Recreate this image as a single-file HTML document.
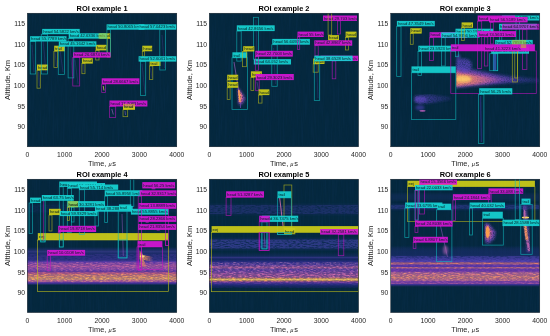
<!DOCTYPE html>
<html lang="en"><head><meta charset="utf-8"><title>ROI examples</title>
<style>
html,body{margin:0;padding:0;background:#fff;}
body{width:550px;height:336px;overflow:hidden;}
svg{display:block;font-family:"Liberation Sans",Arial,Helvetica,sans-serif;}
.tk{font-size:6.8px;fill:#262626;}
.lb{font-size:7.45px;fill:#262626;}
.tt{font-size:7.4px;font-weight:bold;fill:#000;}
.an{font-size:4.2px;fill:#062028;}
</style></head><body>
<svg width="550" height="336" viewBox="0 0 550 336">
<defs>
<filter id="streak" x="0" y="0" width="1" height="1" color-interpolation-filters="sRGB">
<feTurbulence type="fractalNoise" baseFrequency="0.55 0.035" numOctaves="2" seed="7" result="n"/>
<feColorMatrix in="n" type="matrix" values="0 0 0 0 0.06  0 0 0 0 0.21  0 0 0 0 0.36  1.8 0 0 0 -0.72"/>
</filter>
<filter id="speck" x="0" y="0" width="1" height="1" color-interpolation-filters="sRGB">
<feTurbulence type="fractalNoise" baseFrequency="0.3 1.0" numOctaves="2" seed="11" result="n"/>
<feColorMatrix in="n" type="matrix" values="0 0 0 0 0  0 0 0 0 0  0 0 0 0 0  3.2 0 0 0 -1.05" result="a"/>
<feComposite in="SourceGraphic" in2="a" operator="in"/>
</filter>
<filter id="speck2" x="0" y="0" width="1" height="1" color-interpolation-filters="sRGB">
<feTurbulence type="fractalNoise" baseFrequency="0.28 1.1" numOctaves="2" seed="23" result="n"/>
<feColorMatrix in="n" type="matrix" values="0 0 0 0 0  0 0 0 0 0  0 0 0 0 0  2.6 0 0 0 -0.55" result="a"/>
<feComposite in="SourceGraphic" in2="a" operator="in"/>
</filter>
<filter id="grain" x="-0.05" y="-0.05" width="1.1" height="1.1" color-interpolation-filters="sRGB">
<feTurbulence type="fractalNoise" baseFrequency="0.75 0.85" numOctaves="2" seed="5" result="n"/>
<feColorMatrix in="n" type="matrix" values="0 0 0 0 0  0 0 0 0 0  0 0 0 0 0  1.3 0 0 0 0.2" result="a"/>
<feComposite in="SourceGraphic" in2="a" operator="in"/>
</filter>
<filter id="b1" x="-0.5" y="-0.5" width="2" height="2"><feGaussianBlur stdDeviation="0.8"/></filter>
<filter id="b2" x="-0.5" y="-0.5" width="2" height="2"><feGaussianBlur stdDeviation="1.8"/></filter>
<filter id="b3" x="-0.5" y="-0.5" width="2" height="2"><feGaussianBlur stdDeviation="3.2"/></filter>
<filter id="b0" x="-0.5" y="-0.5" width="2" height="2"><feGaussianBlur stdDeviation="0.45"/></filter>
<clipPath id="cp0"><rect x="27.3" y="13.2" width="149.50" height="133.60"/></clipPath>
<clipPath id="cp1"><rect x="209.3" y="13.2" width="149.30" height="133.60"/></clipPath>
<radialGradient id="m2a" cx="0.25" cy="0.5" r="0.8"><stop offset="0" stop-color="#ffb060" stop-opacity="1"/><stop offset="0.5" stop-color="#e8689a" stop-opacity="0.85"/><stop offset="1" stop-color="#7040b0" stop-opacity="0"/></radialGradient>
<clipPath id="cp2"><rect x="390.7" y="13.2" width="149.10" height="133.60"/></clipPath>
<radialGradient id="m3a" cx="0.5" cy="0.5" r="0.5"><stop offset="0" stop-color="#ffdc68" stop-opacity="1"/><stop offset="0.5" stop-color="#ffae48" stop-opacity="0.9"/><stop offset="1" stop-color="#f08060" stop-opacity="0"/></radialGradient>
<linearGradient id="m3b" x1="0" y1="0" x2="1" y2="0"><stop offset="0" stop-color="#ffa848" stop-opacity="1"/><stop offset="0.45" stop-color="#f08a60" stop-opacity="0.9"/><stop offset="1" stop-color="#d0609a" stop-opacity="0"/></linearGradient>
<linearGradient id="m3c" x1="0" y1="0" x2="1" y2="0"><stop offset="0" stop-color="#5c44bc" stop-opacity="0.95"/><stop offset="0.5" stop-color="#4c3eb0" stop-opacity="0.8"/><stop offset="1" stop-color="#4038a4" stop-opacity="0.5"/></linearGradient>
<linearGradient id="m3d" x1="0" y1="0" x2="1" y2="0"><stop offset="0" stop-color="#d8609c" stop-opacity="0.95"/><stop offset="0.5" stop-color="#a452b8" stop-opacity="0.8"/><stop offset="1" stop-color="#6a48c0" stop-opacity="0.2"/></linearGradient>
<linearGradient id="m3e" x1="0" y1="0" x2="1" y2="0"><stop offset="0" stop-color="#6248c4" stop-opacity="0.8"/><stop offset="0.4" stop-color="#5040b4" stop-opacity="0.6"/><stop offset="1" stop-color="#4038a4" stop-opacity="0.25"/></linearGradient>
<clipPath id="m3clip"><rect x="456.4" y="40" width="90" height="70"/></clipPath>
<clipPath id="cp3"><rect x="27.3" y="179.2" width="149.50" height="133.40"/></clipPath>
<linearGradient id="g4" x1="0" y1="0" x2="0" y2="1"><stop offset="0" stop-color="#2a2f80" stop-opacity="0"/><stop offset="0.026" stop-color="#2a2f8c" stop-opacity="0.2"/><stop offset="0.117" stop-color="#4a40a8" stop-opacity="0.55"/><stop offset="0.18" stop-color="#302e90" stop-opacity="0.5"/><stop offset="0.338" stop-color="#36309a" stop-opacity="0.6"/><stop offset="0.40" stop-color="#6a40b0" stop-opacity="1"/><stop offset="0.49" stop-color="#b85aa0" stop-opacity="1"/><stop offset="0.584" stop-color="#8a48b0" stop-opacity="1"/><stop offset="0.623" stop-color="#5a38a8" stop-opacity="1"/><stop offset="0.675" stop-color="#d8687e" stop-opacity="1"/><stop offset="0.753" stop-color="#ec8862" stop-opacity="1"/><stop offset="0.82" stop-color="#f8a858" stop-opacity="1"/><stop offset="0.883" stop-color="#d8609a" stop-opacity="1"/><stop offset="0.935" stop-color="#5a3cb0" stop-opacity="0.9"/><stop offset="1" stop-color="#2a2f80" stop-opacity="0"/></linearGradient>
<radialGradient id="m4a" cx="0.5" cy="0.5" r="0.5"><stop offset="0" stop-color="#ffd468" stop-opacity="1"/><stop offset="0.5" stop-color="#f08a58" stop-opacity="0.8"/><stop offset="1" stop-color="#a050b0" stop-opacity="0"/></radialGradient>
<radialGradient id="m4b" cx="0.2" cy="0.45" r="0.8"><stop offset="0" stop-color="#ffa850" stop-opacity="0.9"/><stop offset="0.6" stop-color="#f08060" stop-opacity="0.5"/><stop offset="1" stop-color="#a050b0" stop-opacity="0"/></radialGradient>
<clipPath id="cp4"><rect x="209.3" y="179.2" width="149.30" height="133.40"/></clipPath>
<linearGradient id="g5" x1="0" y1="0" x2="0" y2="1"><stop offset="0" stop-color="#2a2f80" stop-opacity="0"/><stop offset="0.11" stop-color="#2c3090" stop-opacity="0.3"/><stop offset="0.153" stop-color="#4a3ca8" stop-opacity="0.6"/><stop offset="0.208" stop-color="#2c3090" stop-opacity="0.35"/><stop offset="0.278" stop-color="#3c34a0" stop-opacity="0.8"/><stop offset="0.361" stop-color="#5a3cac" stop-opacity="1"/><stop offset="0.43" stop-color="#d0689a" stop-opacity="1"/><stop offset="0.486" stop-color="#6a40b0" stop-opacity="1"/><stop offset="0.528" stop-color="#7a44b0" stop-opacity="1"/><stop offset="0.611" stop-color="#b85aa4" stop-opacity="1"/><stop offset="0.694" stop-color="#c8609c" stop-opacity="1"/><stop offset="0.73" stop-color="#f49a58" stop-opacity="1"/><stop offset="0.764" stop-color="#ffc858" stop-opacity="1"/><stop offset="0.797" stop-color="#f49a58" stop-opacity="1"/><stop offset="0.833" stop-color="#a04cb0" stop-opacity="1"/><stop offset="0.889" stop-color="#4a38a8" stop-opacity="0.8"/><stop offset="0.944" stop-color="#2c3090" stop-opacity="0.4"/><stop offset="1" stop-color="#2a2f80" stop-opacity="0"/></linearGradient>
<clipPath id="cp5"><rect x="390.7" y="179.2" width="149.10" height="133.40"/></clipPath>
<linearGradient id="g6" x1="0" y1="0" x2="0" y2="1"><stop offset="0" stop-color="#2a2f80" stop-opacity="0"/><stop offset="0.12" stop-color="#2c3090" stop-opacity="0.15"/><stop offset="0.262" stop-color="#34329c" stop-opacity="0.4"/><stop offset="0.33" stop-color="#3e36a2" stop-opacity="0.7"/><stop offset="0.393" stop-color="#4e3aa8" stop-opacity="0.9"/><stop offset="0.436" stop-color="#f08868" stop-opacity="1"/><stop offset="0.481" stop-color="#6a3cb0" stop-opacity="1"/><stop offset="0.519" stop-color="#6a3cb0" stop-opacity="1"/><stop offset="0.543" stop-color="#f08868" stop-opacity="1"/><stop offset="0.571" stop-color="#7a40b0" stop-opacity="1"/><stop offset="0.619" stop-color="#7a40b0" stop-opacity="1"/><stop offset="0.667" stop-color="#d06a9a" stop-opacity="1"/><stop offset="0.774" stop-color="#ec8870" stop-opacity="1"/><stop offset="0.845" stop-color="#d06a9a" stop-opacity="1"/><stop offset="0.881" stop-color="#7a40b0" stop-opacity="1"/><stop offset="0.91" stop-color="#c060a0" stop-opacity="1"/><stop offset="0.94" stop-color="#4a38a8" stop-opacity="0.8"/><stop offset="1" stop-color="#2a2f80" stop-opacity="0"/></linearGradient>
<radialGradient id="m6a" cx="0.25" cy="0.5" r="0.75"><stop offset="0" stop-color="#ffb058" stop-opacity="1"/><stop offset="0.45" stop-color="#e0689a" stop-opacity="0.8"/><stop offset="1" stop-color="#7040b0" stop-opacity="0"/></radialGradient>
</defs>
<rect width="550" height="336" fill="#fff"/>
<g id="panel1">
<rect x="27.3" y="13.2" width="149.5" height="133.6" fill="#05283e"/>
<g clip-path="url(#cp0)">
<rect x="27.3" y="13.2" width="149.5" height="133.6" filter="url(#streak)" opacity="0.32"/>
<line x1="32" y1="45" x2="34" y2="72" stroke="#4a3a9a" stroke-width="0.9" stroke-opacity="0.4" filter="url(#b0)"/>
<line x1="43" y1="40" x2="46" y2="72" stroke="#4a3a9a" stroke-width="0.9" stroke-opacity="0.4" filter="url(#b0)"/>
<line x1="60" y1="50" x2="63" y2="72" stroke="#4a3a9a" stroke-width="0.9" stroke-opacity="0.4" filter="url(#b0)"/>
<line x1="70" y1="45" x2="72.5" y2="76" stroke="#4a3a9a" stroke-width="0.9" stroke-opacity="0.4" filter="url(#b0)"/>
<line x1="75" y1="60" x2="78" y2="84" stroke="#4a3a9a" stroke-width="0.9" stroke-opacity="0.4" filter="url(#b0)"/>
<line x1="142" y1="64" x2="145" y2="93" stroke="#4a3a9a" stroke-width="0.9" stroke-opacity="0.4" filter="url(#b0)"/>
<line x1="162" y1="35" x2="164.5" y2="68" stroke="#4a3a9a" stroke-width="0.9" stroke-opacity="0.4" filter="url(#b0)"/>
<line x1="150.5" y1="68" x2="152" y2="78" stroke="#4a3a9a" stroke-width="0.9" stroke-opacity="0.4" filter="url(#b0)"/>
<line x1="55" y1="52" x2="56.5" y2="66" stroke="#4a3a9a" stroke-width="0.9" stroke-opacity="0.4" filter="url(#b0)"/>
<line x1="38.5" y1="72" x2="39.5" y2="86" stroke="#4a3a9a" stroke-width="0.9" stroke-opacity="0.4" filter="url(#b0)"/>
<line x1="83" y1="64" x2="84" y2="72" stroke="#4a3a9a" stroke-width="0.9" stroke-opacity="0.4" filter="url(#b0)"/>
<line x1="103.2" y1="86" x2="104" y2="90.5" stroke="#f0c060" stroke-width="0.8" stroke-opacity="0.9"/>
<line x1="111.8" y1="109" x2="113.3" y2="114.5" stroke="#b070d0" stroke-width="0.7" stroke-opacity="0.8"/>
<line x1="125" y1="111" x2="125.6" y2="115" stroke="#8060c0" stroke-width="0.7" stroke-opacity="0.8"/>
<rect x="53.9" y="51.3" width="3.5" height="16.1" fill="none" stroke="#b9b91c" stroke-width="0.75" stroke-opacity="0.75"/>
<rect x="54.2" y="45.7" width="10.8" height="5.6" fill="#cccc18" fill-opacity="0.93"/>
<text class="an" x="55.2" y="49.95">trail</text>
<rect x="37" y="70.3" width="3.3" height="17.9" fill="none" stroke="#b9b91c" stroke-width="0.75" stroke-opacity="0.75"/>
<rect x="37" y="64.5" width="11" height="5.8" fill="#cccc18" fill-opacity="0.93"/>
<text class="an" x="38" y="68.85">head</text>
<rect x="95.7" y="50.4" width="3.3" height="9.6" fill="none" stroke="#b9b91c" stroke-width="0.75" stroke-opacity="0.75"/>
<rect x="95.7" y="44.8" width="10.9" height="5.6" fill="#cccc18" fill-opacity="0.93"/>
<text class="an" x="96.7" y="49.05">head</text>
<rect x="107.3" y="38.6" width="3.2" height="18.4" fill="none" stroke="#b9b91c" stroke-width="0.75" stroke-opacity="0.75"/>
<rect x="99.5" y="33.3" width="11" height="5.3" fill="#cccc18" fill-opacity="0.93"/>
<text class="an" x="100.5" y="37.4">head</text>
<rect x="81.9" y="63.6" width="3.1" height="10.1" fill="none" stroke="#b9b91c" stroke-width="0.75" stroke-opacity="0.75"/>
<rect x="81.9" y="58.2" width="10.9" height="5.4" fill="#cccc18" fill-opacity="0.93"/>
<text class="an" x="82.9" y="62.35">head</text>
<rect x="142.3" y="51.3" width="2.2" height="4.9" fill="none" stroke="#b9b91c" stroke-width="0.75" stroke-opacity="0.75"/>
<rect x="142.3" y="45.7" width="9.9" height="5.6" fill="#cccc18" fill-opacity="0.93"/>
<text class="an" x="143.3" y="49.95">head</text>
<rect x="149.6" y="66" width="3.2" height="13.5" fill="none" stroke="#b9b91c" stroke-width="0.75" stroke-opacity="0.75"/>
<rect x="149.6" y="60.5" width="10.9" height="5.5" fill="#cccc18" fill-opacity="0.93"/>
<text class="an" x="150.6" y="64.7">trail</text>
<rect x="123" y="109.7" width="4.7" height="7" fill="none" stroke="#b9b91c" stroke-width="0.75" stroke-opacity="0.75"/>
<rect x="123" y="103.8" width="12" height="5.9" fill="#cccc18" fill-opacity="0.93"/>
<text class="an" x="124" y="108.2">head</text>
<rect x="30.2" y="41.5" width="5.5" height="32.5" fill="none" stroke="#12b9bd" stroke-width="0.75" stroke-opacity="0.75"/>
<rect x="30.1" y="36.2" width="36.4" height="5.3" fill="#16d2d2" fill-opacity="0.93"/>
<text class="an" x="31.1" y="40.3">head 55.7789 km/s</text>
<rect x="41.3" y="34.2" width="6.2" height="39.8" fill="none" stroke="#12b9bd" stroke-width="0.75" stroke-opacity="0.75"/>
<rect x="42.2" y="28.9" width="37.5" height="5.3" fill="#16d2d2" fill-opacity="0.93"/>
<text class="an" x="43.2" y="33">head 54.5822 km/s</text>
<rect x="68.1" y="38.6" width="5.7" height="39.3" fill="none" stroke="#12b9bd" stroke-width="0.75" stroke-opacity="0.75"/>
<rect x="68.7" y="33.3" width="37.8" height="5.3" fill="#16d2d2" fill-opacity="0.93"/>
<text class="an" x="69.7" y="37.4">head 42.6336 km/s</text>
<rect x="58.3" y="46.6" width="6.1" height="27.8" fill="none" stroke="#12b9bd" stroke-width="0.75" stroke-opacity="0.75"/>
<rect x="58.8" y="41.3" width="37.6" height="5.3" fill="#16d2d2" fill-opacity="0.93"/>
<text class="an" x="59.8" y="45.4">head 45.1642 km/s</text>
<rect x="106.9" y="29.7" width="3.6" height="26.3" fill="none" stroke="#12b9bd" stroke-width="0.75" stroke-opacity="0.75"/>
<rect x="106.6" y="24.3" width="37.8" height="5.4" fill="#16d2d2" fill-opacity="0.93"/>
<text class="an" x="107.6" y="28.45">head 50.8065 km/s</text>
<rect x="159.8" y="29.7" width="5.8" height="40.3" fill="none" stroke="#12b9bd" stroke-width="0.75" stroke-opacity="0.75"/>
<rect x="138.6" y="24.3" width="38.1" height="5.4" fill="#16d2d2" fill-opacity="0.93"/>
<text class="an" x="139.6" y="28.45">head 57.0423 km/s</text>
<rect x="140.4" y="61.6" width="5.3" height="33.9" fill="none" stroke="#12b9bd" stroke-width="0.75" stroke-opacity="0.75"/>
<rect x="138.6" y="56.2" width="38.1" height="5.4" fill="#16d2d2" fill-opacity="0.93"/>
<text class="an" x="139.6" y="60.35">head 52.6041 km/s</text>
<rect x="98.5" y="33.3" width="8" height="5.3" fill="#cccc18" fill-opacity="0.5"/>
<rect x="72.8" y="57.6" width="6.9" height="28.4" fill="none" stroke="#c214c2" stroke-width="0.75" stroke-opacity="0.75"/>
<rect x="73.1" y="52.3" width="37.4" height="5.3" fill="#d416d4" fill-opacity="0.93"/>
<text class="an" x="74.1" y="56.4">head 26.6874 km/s</text>
<rect x="101.7" y="84.2" width="3.8" height="8.4" fill="none" stroke="#c214c2" stroke-width="0.75" stroke-opacity="0.75"/>
<rect x="101.7" y="78.3" width="37.7" height="5.9" fill="#d416d4" fill-opacity="0.93"/>
<text class="an" x="102.7" y="82.7">head 28.6667 km/s</text>
<rect x="109.5" y="106.5" width="6.2" height="10.9" fill="none" stroke="#c214c2" stroke-width="0.75" stroke-opacity="0.75"/>
<rect x="109.5" y="100.5" width="37.9" height="6" fill="#d416d4" fill-opacity="0.93"/>
<text class="an" x="110.5" y="104.95">head 17.7083 km/s</text>
<rect x="123" y="103.8" width="12" height="5.9" fill="#cccc18" fill-opacity="0.55"/>
<text class="an" x="124" y="108.2">head</text>
</g>
<rect x="27.3" y="13.2" width="149.5" height="133.6" fill="none" stroke="#0a1018" stroke-width="0.45" stroke-opacity="0.85"/>
<text class="tt" text-anchor="middle" x="102.05" y="11.3">ROI example 1</text>
<text class="tk" text-anchor="middle" x="27.3" y="156.9">0</text>
<text class="tk" text-anchor="middle" x="64.67" y="156.9">1000</text>
<text class="tk" text-anchor="middle" x="102.05" y="156.9">2000</text>
<text class="tk" text-anchor="middle" x="139.43" y="156.9">3000</text>
<text class="tk" text-anchor="middle" x="176.8" y="156.9">4000</text>
<text class="tk" text-anchor="end" x="25" y="26.15">115</text>
<text class="tk" text-anchor="end" x="25" y="46.75">110</text>
<text class="tk" text-anchor="end" x="25" y="67.35">105</text>
<text class="tk" text-anchor="end" x="25" y="87.95">100</text>
<text class="tk" text-anchor="end" x="25" y="108.55">95</text>
<text class="tk" text-anchor="end" x="25" y="129.15">90</text>
<text class="lb" text-anchor="middle" x="102.05" y="166.4">Time, <tspan font-family="'Liberation Serif','DejaVu Serif',serif" font-style="italic" font-size="6.4px">μ</tspan><tspan dx="0.7">s</tspan></text>
<text class="lb" text-anchor="middle" transform="translate(10,80) rotate(-90)">Altitude, Km</text>
</g>
<g id="panel2">
<rect x="209.3" y="13.2" width="149.3" height="133.6" fill="#05283e"/>
<g clip-path="url(#cp1)">
<rect x="209.3" y="13.2" width="149.3" height="133.6" filter="url(#streak)" opacity="0.32"/>
<line x1="234" y1="62" x2="238.6" y2="90" stroke="#a060c0" stroke-width="0.9" stroke-opacity="0.75" filter="url(#b0)"/>
<g filter="url(#grain)"><polygon points="237.3,88 239.5,88.5 245.5,98 244,102 240.5,105.5 238.2,104" fill="#8a50c0" opacity="0.8" filter="url(#b1)"/><polygon points="238,89.5 239.6,90 244.3,98 243,101 240.4,103.5 238.6,102.5" fill="url(#m2a)" filter="url(#b0)"/></g>
<line x1="238.7" y1="90" x2="240" y2="102" stroke="#ffa850" stroke-width="1.3" stroke-opacity="0.95" filter="url(#b0)"/>
<line x1="240.2" y1="103" x2="240.6" y2="108" stroke="#7a4cc0" stroke-width="1" stroke-opacity="0.7" filter="url(#b0)"/>
<line x1="255.9" y1="20" x2="257" y2="58" stroke="#4a3a9a" stroke-width="0.8" stroke-opacity="0.4" filter="url(#b0)"/>
<line x1="316.5" y1="64" x2="318" y2="98" stroke="#4a3a9a" stroke-width="0.8" stroke-opacity="0.4" filter="url(#b0)"/>
<line x1="273.5" y1="48" x2="275.5" y2="84" stroke="#4a3a9a" stroke-width="0.8" stroke-opacity="0.4" filter="url(#b0)"/>
<line x1="257" y1="82" x2="258.5" y2="90" stroke="#7a4cc0" stroke-width="0.7" stroke-opacity="0.6"/>
<rect x="253.5" y="17.3" width="5.1" height="41.8" fill="none" stroke="#12b9bd" stroke-width="0.75" stroke-opacity="0.75"/>
<rect x="253.8" y="59.1" width="37.2" height="5.4" fill="#16d2d2" fill-opacity="0.93"/>
<text class="an" x="254.8" y="63.25">head 64.052 km/s</text>
<rect x="236.8" y="31.1" width="4.4" height="30" fill="none" stroke="#12b9bd" stroke-width="0.75" stroke-opacity="0.75"/>
<rect x="236.8" y="25.3" width="37.9" height="5.8" fill="#16d2d2" fill-opacity="0.93"/>
<text class="an" x="237.8" y="29.65">head 42.8656 km/s</text>
<rect x="271.8" y="44.7" width="5.4" height="41.6" fill="none" stroke="#12b9bd" stroke-width="0.75" stroke-opacity="0.75"/>
<rect x="272.3" y="38.9" width="37.6" height="5.8" fill="#16d2d2" fill-opacity="0.93"/>
<text class="an" x="273.3" y="43.25">head 56.6092 km/s</text>
<rect x="232" y="57.8" width="15.5" height="51.6" fill="none" stroke="#12b9bd" stroke-width="0.75" stroke-opacity="0.75"/>
<rect x="232.4" y="52.3" width="14.9" height="5.5" fill="#16d2d2" fill-opacity="0.93"/>
<text class="an" x="233.4" y="56.5">trail</text>
<rect x="242.6" y="51.5" width="3.9" height="15.2" fill="none" stroke="#b9b91c" stroke-width="0.75" stroke-opacity="0.75"/>
<rect x="243.2" y="46.2" width="11.1" height="5.3" fill="#cccc18" fill-opacity="0.93"/>
<text class="an" x="244.2" y="50.3">head</text>
<rect x="255.3" y="56.6" width="3.3" height="13.7" fill="none" stroke="#c214c2" stroke-width="0.75" stroke-opacity="0.75"/>
<rect x="255.3" y="50.8" width="37.5" height="5.8" fill="#d416d4" fill-opacity="0.93"/>
<text class="an" x="256.3" y="55.15">head 22.7003 km/s</text>
<rect x="337.6" y="20.9" width="2.9" height="13.1" fill="none" stroke="#c214c2" stroke-width="0.75" stroke-opacity="0.75"/>
<rect x="323" y="15.5" width="34" height="5.4" fill="#d416d4" fill-opacity="0.93"/>
<text class="an" x="324" y="19.65">head 29.703 km/s</text>
<rect x="328.1" y="12" width="3.6" height="23" fill="none" stroke="#b9b91c" stroke-width="0.75" stroke-opacity="0.75"/>
<rect x="328.1" y="35.1" width="10.9" height="5.2" fill="#cccc18" fill-opacity="0.93"/>
<text class="an" x="329.1" y="39.15">head</text>
<rect x="297.5" y="37" width="2.2" height="12.4" fill="none" stroke="#c214c2" stroke-width="0.75" stroke-opacity="0.75"/>
<rect x="297.5" y="31.6" width="26.2" height="5.4" fill="#d416d4" fill-opacity="0.93"/>
<text class="an" x="298.5" y="35.75">head 55 km/s</text>
<rect x="345.6" y="37.4" width="2.9" height="12.6" fill="none" stroke="#b9b91c" stroke-width="0.75" stroke-opacity="0.75"/>
<rect x="345.6" y="31.6" width="10.9" height="5.8" fill="#cccc18" fill-opacity="0.93"/>
<text class="an" x="346.6" y="35.95">head</text>
<rect x="315" y="45.7" width="3.2" height="10" fill="none" stroke="#c214c2" stroke-width="0.75" stroke-opacity="0.75"/>
<rect x="314.3" y="40.3" width="37.9" height="5.4" fill="#d416d4" fill-opacity="0.93"/>
<text class="an" x="315.3" y="44.45">head 42.8967 km/s</text>
<rect x="332.2" y="61" width="3.6" height="17.8" fill="none" stroke="#c214c2" stroke-width="0.75" stroke-opacity="0.75"/>
<rect x="320.6" y="55.7" width="38" height="5.3" fill="#d416d4" fill-opacity="0.93"/>
<text class="an" x="321.6" y="59.8">head 25.2101 km/s</text>
<rect x="313.2" y="64" width="5" height="8.2" fill="none" stroke="#b9b91c" stroke-width="0.75" stroke-opacity="0.75"/>
<rect x="313.2" y="58.5" width="11.3" height="5.5" fill="#cccc18" fill-opacity="0.93"/>
<text class="an" x="314.2" y="62.7">head</text>
<rect x="314.3" y="61.1" width="5.4" height="39.4" fill="none" stroke="#12b9bd" stroke-width="0.75" stroke-opacity="0.75"/>
<rect x="314.3" y="55.7" width="38.3" height="5.4" fill="#16d2d2" fill-opacity="0.93"/>
<text class="an" x="315.3" y="59.85">head 38.6528 km/s</text>
<rect x="227.2" y="80.1" width="2.9" height="1.9" fill="none" stroke="#b9b91c" stroke-width="0.75" stroke-opacity="0.75"/>
<rect x="227.2" y="74.7" width="11" height="5.4" fill="#cccc18" fill-opacity="0.93"/>
<text class="an" x="228.2" y="78.85">head</text>
<rect x="227.2" y="87.8" width="2.9" height="11.7" fill="none" stroke="#b9b91c" stroke-width="0.75" stroke-opacity="0.75"/>
<rect x="227.2" y="82" width="11" height="5.8" fill="#cccc18" fill-opacity="0.93"/>
<text class="an" x="228.2" y="86.35">head</text>
<rect x="250.9" y="77.4" width="2.9" height="13" fill="none" stroke="#b9b91c" stroke-width="0.75" stroke-opacity="0.75"/>
<rect x="250.9" y="71.3" width="11" height="6.1" fill="#cccc18" fill-opacity="0.93"/>
<text class="an" x="251.9" y="75.8">head</text>
<rect x="255.7" y="80.1" width="3.5" height="10.6" fill="none" stroke="#c214c2" stroke-width="0.75" stroke-opacity="0.75"/>
<rect x="255.7" y="74" width="38.1" height="6.1" fill="#d416d4" fill-opacity="0.93"/>
<text class="an" x="256.7" y="78.5">head 29.3023 km/s</text>
<rect x="258.4" y="95.1" width="3.6" height="8" fill="none" stroke="#b9b91c" stroke-width="0.75" stroke-opacity="0.75"/>
<rect x="258.6" y="89.3" width="10.8" height="5.8" fill="#cccc18" fill-opacity="0.93"/>
<text class="an" x="259.6" y="93.65">head</text>
</g>
<rect x="209.3" y="13.2" width="149.3" height="133.6" fill="none" stroke="#0a1018" stroke-width="0.45" stroke-opacity="0.85"/>
<text class="tt" text-anchor="middle" x="283.95" y="11.3">ROI example 2</text>
<text class="tk" text-anchor="middle" x="209.3" y="156.9">0</text>
<text class="tk" text-anchor="middle" x="246.62" y="156.9">1000</text>
<text class="tk" text-anchor="middle" x="283.95" y="156.9">2000</text>
<text class="tk" text-anchor="middle" x="321.28" y="156.9">3000</text>
<text class="tk" text-anchor="middle" x="358.6" y="156.9">4000</text>
<text class="tk" text-anchor="end" x="207" y="26.15">115</text>
<text class="tk" text-anchor="end" x="207" y="46.75">110</text>
<text class="tk" text-anchor="end" x="207" y="67.35">105</text>
<text class="tk" text-anchor="end" x="207" y="87.95">100</text>
<text class="tk" text-anchor="end" x="207" y="108.55">95</text>
<text class="tk" text-anchor="end" x="207" y="129.15">90</text>
<text class="lb" text-anchor="middle" x="283.95" y="166.4">Time, <tspan font-family="'Liberation Serif','DejaVu Serif',serif" font-style="italic" font-size="6.4px">μ</tspan><tspan dx="0.7">s</tspan></text>
<text class="lb" text-anchor="middle" transform="translate(192,80) rotate(-90)">Altitude, Km</text>
</g>
<g id="panel3">
<rect x="390.7" y="13.2" width="149.1" height="133.6" fill="#05283e"/>
<g clip-path="url(#cp2)">
<rect x="390.7" y="13.2" width="149.1" height="133.6" filter="url(#streak)" opacity="0.32"/>
<g clip-path="url(#m3clip)" filter="url(#grain)"><polygon points="450,65 470,69 500,75 540,79.2 540,81.4 500,83.5 470,86 450,88.5" fill="url(#m3c)" filter="url(#b2)"/><polygon points="450,70 480,74.5 518,79.2 518,81.3 480,84 450,87" fill="url(#m3d)" filter="url(#b1)"/><polygon points="450,73.5 475,76 500,79 500,81 475,83.5 450,85.5" fill="url(#m3b)" filter="url(#b1)"/><ellipse cx="464" cy="79" rx="11" ry="4.6" fill="url(#m3a)"/></g>
<g clip-path="url(#m3clip)"><polygon points="450,72 475,75.5 505,79.2 505,80.8 475,84 450,86" fill="url(#m3b)" opacity="0.55" filter="url(#b1)"/><polygon points="450,67 480,72 520,79 520,81.5 480,85.5 450,88" fill="url(#m3d)" opacity="0.35" filter="url(#b2)"/><ellipse cx="463" cy="79" rx="8.5" ry="3.4" fill="#ffd468" opacity="0.75" filter="url(#b1)"/></g>
<ellipse cx="458.5" cy="59" rx="2.2" ry="5" fill="#5a45b8" opacity="0.6" filter="url(#b1)"/>
<g filter="url(#grain)"><ellipse cx="464" cy="65.5" rx="8" ry="7" fill="#5844b8" opacity="0.85" filter="url(#b2)"/></g>
<g filter="url(#grain)"><polygon points="414.5,96 430,94.5 451,97 451,100 432,103 420,104 414.5,102" fill="url(#m3e)" filter="url(#b1)"/></g>
<ellipse cx="421" cy="99.5" rx="6" ry="3" fill="#6248c4" opacity="0.5" filter="url(#b1)"/>
<ellipse cx="420" cy="107.5" rx="4.5" ry="2.6" fill="#4a3cb0" opacity="0.6" filter="url(#b1)"/>
<ellipse cx="422.5" cy="110.8" rx="3.2" ry="0.9" fill="#c060c0" opacity="0.85" filter="url(#b0)"/>
<line x1="480.5" y1="96" x2="481.5" y2="142" stroke="#34348c" stroke-width="1.4" stroke-opacity="0.6" filter="url(#b0)"/>
<rect x="396.7" y="26.3" width="4.3" height="50.3" fill="none" stroke="#12b9bd" stroke-width="0.75" stroke-opacity="0.75"/>
<rect x="396.9" y="20.9" width="37.9" height="5.4" fill="#16d2d2" fill-opacity="0.93"/>
<text class="an" x="397.9" y="25.05">head 47.3549 km/s</text>
<rect x="410.3" y="33.6" width="2.9" height="10.7" fill="none" stroke="#b9b91c" stroke-width="0.75" stroke-opacity="0.75"/>
<rect x="410.3" y="28.2" width="11.4" height="5.4" fill="#cccc18" fill-opacity="0.93"/>
<text class="an" x="411.3" y="32.35">head</text>
<rect x="429.6" y="37.7" width="3.8" height="22.8" fill="none" stroke="#c214c2" stroke-width="0.75" stroke-opacity="0.75"/>
<rect x="429.6" y="32.2" width="37.4" height="5.5" fill="#d416d4" fill-opacity="0.93"/>
<text class="an" x="430.6" y="36.4">head 30.2663 km/s</text>
<rect x="455.5" y="33.5" width="2.9" height="23.2" fill="none" stroke="#12b9bd" stroke-width="0.75" stroke-opacity="0.75"/>
<rect x="455.5" y="28.7" width="37.8" height="4.8" fill="#16d2d2" fill-opacity="0.93"/>
<text class="an" x="456.5" y="32.55">head 50.1931 km/s</text>
<rect x="441.5" y="37.7" width="3.7" height="28.3" fill="none" stroke="#12b9bd" stroke-width="0.75" stroke-opacity="0.75"/>
<rect x="441.2" y="32.4" width="38.3" height="5.3" fill="#16d2d2" fill-opacity="0.93"/>
<text class="an" x="442.2" y="36.5">head 54.9356 km/s</text>
<rect x="461.6" y="27.8" width="2.7" height="12.8" fill="none" stroke="#b9b91c" stroke-width="0.75" stroke-opacity="0.75"/>
<rect x="461.6" y="22.4" width="11.4" height="5.4" fill="#cccc18" fill-opacity="0.93"/>
<text class="an" x="462.6" y="26.55">head</text>
<rect x="418" y="51.5" width="3.6" height="23.9" fill="none" stroke="#12b9bd" stroke-width="0.75" stroke-opacity="0.75"/>
<rect x="418.3" y="45.7" width="37.7" height="5.8" fill="#16d2d2" fill-opacity="0.93"/>
<text class="an" x="419.3" y="50.05">head 23.5923 km/s</text>
<rect x="411.5" y="72.8" width="44.3" height="46.8" fill="none" stroke="#12b9bd" stroke-width="0.75" stroke-opacity="0.75"/>
<rect x="411.5" y="66.4" width="44.3" height="6.4" fill="#16d2d2" fill-opacity="0.93"/>
<text class="an" x="412.5" y="71.05">trail</text>
<rect x="516" y="20.5" width="3.5" height="23.5" fill="none" stroke="#12b9bd" stroke-width="0.75" stroke-opacity="0.75"/>
<rect x="502" y="15.5" width="37.6" height="5" fill="#16d2d2" fill-opacity="0.93"/>
<text class="an" x="503" y="19.45">head 60.8295 km/s</text>
<rect x="499.5" y="29.2" width="2.3" height="14.8" fill="none" stroke="#12b9bd" stroke-width="0.75" stroke-opacity="0.75"/>
<rect x="499" y="23.8" width="38" height="5.4" fill="#16d2d2" fill-opacity="0.93"/>
<text class="an" x="500" y="27.95">head 58.2192 km/s</text>
<rect x="477.5" y="21.2" width="4.2" height="47.2" fill="none" stroke="#c214c2" stroke-width="0.75" stroke-opacity="0.75"/>
<rect x="477.7" y="15.5" width="37.3" height="5.7" fill="#d416d4" fill-opacity="0.93"/>
<text class="an" x="478.7" y="19.8">head 35.9712 km/s</text>
<rect x="490.5" y="22.4" width="2.8" height="21.6" fill="none" stroke="#c214c2" stroke-width="0.75" stroke-opacity="0.75"/>
<rect x="489" y="17" width="38.6" height="5.4" fill="#d416d4" fill-opacity="0.93"/>
<text class="an" x="490" y="21.15">head 56.5189 km/s</text>
<rect x="522.5" y="29.7" width="4.4" height="39.9" fill="none" stroke="#c214c2" stroke-width="0.75" stroke-opacity="0.75"/>
<rect x="502" y="23.8" width="37.6" height="5.9" fill="#d416d4" fill-opacity="0.72"/>
<text class="an" x="503" y="28.2">head 64.9707 km/s</text>
<rect x="484.6" y="37" width="3.2" height="29" fill="none" stroke="#c214c2" stroke-width="0.75" stroke-opacity="0.75"/>
<rect x="477.7" y="31.1" width="38.3" height="5.9" fill="#d416d4" fill-opacity="0.93"/>
<text class="an" x="478.7" y="35.5">head 74.5631 km/s</text>
<rect x="489.7" y="53.7" width="8" height="17" fill="none" stroke="#12b9bd" stroke-width="0.75" stroke-opacity="0.75"/>
<rect x="495.2" y="39.9" width="37.5" height="4.8" fill="#16d2d2" fill-opacity="0.93"/>
<text class="an" x="496.2" y="43.75">head 52.7859 km/s</text>
<rect x="493.3" y="53.7" width="4.4" height="17" fill="none" stroke="#12b9bd" stroke-width="0.75" stroke-opacity="0.75"/>
<rect x="493.3" y="53.7" width="3" height="16.5" fill="#3a6ad0" opacity="0.7"/>
<rect x="491.2" y="48" width="37.8" height="5.7" fill="#16d2d2" fill-opacity="0.93"/>
<text class="an" x="492.2" y="52.3">head 49.6454 km/s</text>
<rect x="512.3" y="44.7" width="5.1" height="37.3" fill="none" stroke="#b9b91c" stroke-width="0.75" stroke-opacity="0.75"/>
<rect x="511.8" y="39.9" width="14.4" height="4.8" fill="#cccc18" fill-opacity="0.5"/>
<rect x="514.8" y="44.7" width="2.6" height="33.3" fill="none" stroke="#b9b91c" stroke-width="0.75" stroke-opacity="0.75"/>
<rect x="450.8" y="51" width="85.5" height="42.4" fill="none" stroke="#c214c2" stroke-width="0.75" stroke-opacity="0.75"/>
<rect x="450.8" y="44.3" width="84.1" height="6.7" fill="#d416d4" fill-opacity="0.93"/>
<text class="an" x="451.8" y="49.1">trail</text>
<rect x="483.9" y="46.4" width="45.1" height="4.9" fill="#d416d4" fill-opacity="0.7"/>
<text class="an" x="484.9" y="50.3">head 41.3223 km/s</text>
<rect x="520.7" y="44.4" width="5.5" height="3.6" fill="#cccc18" fill-opacity="0.5"/>
<rect x="478.5" y="94.4" width="5.4" height="49.1" fill="none" stroke="#12b9bd" stroke-width="0.75" stroke-opacity="0.75"/>
<rect x="479.2" y="88.2" width="33.1" height="6.2" fill="#16d2d2" fill-opacity="0.93"/>
<text class="an" x="480.2" y="92.75">head 56.25 km/s</text>
</g>
<rect x="390.7" y="13.2" width="149.1" height="133.6" fill="none" stroke="#0a1018" stroke-width="0.45" stroke-opacity="0.85"/>
<text class="tt" text-anchor="middle" x="465.25" y="11.3">ROI example 3</text>
<text class="tk" text-anchor="middle" x="390.7" y="156.9">0</text>
<text class="tk" text-anchor="middle" x="427.97" y="156.9">1000</text>
<text class="tk" text-anchor="middle" x="465.25" y="156.9">2000</text>
<text class="tk" text-anchor="middle" x="502.52" y="156.9">3000</text>
<text class="tk" text-anchor="middle" x="539.8" y="156.9">4000</text>
<text class="tk" text-anchor="end" x="388.4" y="26.15">115</text>
<text class="tk" text-anchor="end" x="388.4" y="46.75">110</text>
<text class="tk" text-anchor="end" x="388.4" y="67.35">105</text>
<text class="tk" text-anchor="end" x="388.4" y="87.95">100</text>
<text class="tk" text-anchor="end" x="388.4" y="108.55">95</text>
<text class="tk" text-anchor="end" x="388.4" y="129.15">90</text>
<text class="lb" text-anchor="middle" x="465.25" y="166.4">Time, <tspan font-family="'Liberation Serif','DejaVu Serif',serif" font-style="italic" font-size="6.4px">μ</tspan><tspan dx="0.7">s</tspan></text>
<text class="lb" text-anchor="middle" transform="translate(373.4,80) rotate(-90)">Altitude, Km</text>
</g>
<g id="panel4">
<rect x="27.3" y="179.2" width="149.5" height="133.4" fill="#05283e"/>
<g clip-path="url(#cp3)">
<rect x="27.3" y="179.2" width="149.5" height="133.4" filter="url(#streak)" opacity="0.32"/>
<rect x="27.3" y="203.5" width="149.50" height="10" fill="#263684" opacity="0.1" filter="url(#b1)"/>
<rect x="27.3" y="205" width="149.50" height="7" fill="#4a4ab0" opacity="0.06" filter="url(#speck2)"/>
<rect x="27.3" y="247" width="149.5" height="38.5" fill="url(#g4)"/>
<rect x="27.3" y="254" width="149.50" height="8" fill="#6a48c0" opacity="0.2" filter="url(#speck2)"/>
<rect x="27.3" y="262" width="149.50" height="9" fill="#f088a0" opacity="0.45" filter="url(#speck)"/>
<rect x="27.3" y="274" width="149.50" height="8" fill="#ffc070" opacity="0.5" filter="url(#speck)"/>
<rect x="27.3" y="277.8" width="149.50" height="2.2" fill="#ffb860" opacity="0.45" filter="url(#b0)"/>
<rect x="27.3" y="262" width="149.50" height="22" fill="#3a2a90" opacity="0.42" filter="url(#speck2)"/>
<g filter="url(#grain)"><polygon points="139.5,250 143,255 154,257 153,262 144,260 147,268 141,266 139.5,258" fill="url(#m4b)" filter="url(#b0)"/></g>
<ellipse cx="141.2" cy="256.5" rx="2" ry="6.5" fill="url(#m4a)"/>
<ellipse cx="142.3" cy="256.3" rx="2.6" ry="1.1" fill="#ffe080" opacity="0.9" filter="url(#b0)"/>
<line x1="122" y1="214" x2="123.3" y2="256" stroke="#9058c0" stroke-width="0.9" stroke-opacity="0.55" filter="url(#b0)"/>
<rect x="37.5" y="240" width="130.9" height="51.6" fill="none" stroke="#b9b91c" stroke-width="0.65" stroke-opacity="0.95"/>
<rect x="37.8" y="233.1" width="130.7" height="6.9" fill="#cccc18" fill-opacity="0.93"/>
<text class="an" x="38.8" y="238">eej</text>
<rect x="59.3" y="186.9" width="3.9" height="60.1" fill="none" stroke="#12b9bd" stroke-width="0.75" stroke-opacity="0.75"/>
<rect x="59.3" y="181.5" width="37.7" height="5.4" fill="#16d2d2" fill-opacity="0.93"/>
<text class="an" x="60.3" y="185.65">head 58.1395 km/s</text>
<rect x="67.3" y="188.4" width="4.3" height="44" fill="none" stroke="#12b9bd" stroke-width="0.75" stroke-opacity="0.75"/>
<rect x="67.3" y="183" width="37.7" height="5.4" fill="#16d2d2" fill-opacity="0.93"/>
<text class="an" x="68.3" y="187.15">head 57.4713 km/s</text>
<rect x="79.3" y="189.8" width="5.2" height="44.5" fill="none" stroke="#12b9bd" stroke-width="0.75" stroke-opacity="0.75"/>
<rect x="78.9" y="184.5" width="39.3" height="5.3" fill="#16d2d2" fill-opacity="0.93"/>
<text class="an" x="79.9" y="188.6">head 55.714 km/s</text>
<rect x="29.1" y="203" width="3.5" height="30.4" fill="none" stroke="#12b9bd" stroke-width="0.75" stroke-opacity="0.75"/>
<rect x="30.1" y="197.6" width="10.9" height="5.4" fill="#16d2d2" fill-opacity="0.93"/>
<text class="an" x="31.1" y="201.75">head</text>
<rect x="40.7" y="200.8" width="4.4" height="41.1" fill="none" stroke="#12b9bd" stroke-width="0.75" stroke-opacity="0.75"/>
<rect x="41.8" y="195" width="32" height="5.8" fill="#16d2d2" fill-opacity="0.93"/>
<text class="an" x="42.8" y="199.35">head 63.75 km/s</text>
<line x1="43.45" y1="200.8" x2="43.45" y2="241" stroke="#c214c2" stroke-width="0.6" stroke-opacity="0.8"/>
<rect x="104.7" y="196.1" width="2.8" height="26.5" fill="none" stroke="#12b9bd" stroke-width="0.75" stroke-opacity="0.75"/>
<rect x="104.7" y="190.3" width="37.6" height="5.8" fill="#16d2d2" fill-opacity="0.93"/>
<text class="an" x="105.7" y="194.65">head 55.8958 km/s</text>
<rect x="130.3" y="178" width="3.5" height="28.6" fill="none" stroke="#12b9bd" stroke-width="0.75" stroke-opacity="0.75"/>
<rect x="95" y="211.7" width="3.5" height="14.3" fill="none" stroke="#12b9bd" stroke-width="0.75" stroke-opacity="0.75"/>
<rect x="95" y="205.9" width="37.7" height="5.8" fill="#16d2d2" fill-opacity="0.93"/>
<text class="an" x="96" y="210.25">head 38.288 km/s</text>
<rect x="71.5" y="207.3" width="2.5" height="14.7" fill="none" stroke="#12b9bd" stroke-width="0.75" stroke-opacity="0.75"/>
<rect x="67.6" y="201.1" width="37.4" height="6.2" fill="#16d2d2" fill-opacity="0.93"/>
<text class="an" x="68.6" y="205.65">head 30.3281 km/s</text>
<rect x="67.6" y="207.3" width="1.9" height="13.2" fill="none" stroke="#b9b91c" stroke-width="0.75" stroke-opacity="0.75"/>
<rect x="67.6" y="201.1" width="10.6" height="6.2" fill="#cccc18" fill-opacity="0.6"/>
<text class="an" x="68.6" y="205.65">head</text>
<rect x="49" y="215.1" width="3" height="15.9" fill="none" stroke="#b9b91c" stroke-width="0.75" stroke-opacity="0.75"/>
<rect x="49" y="208.8" width="11.7" height="6.3" fill="#cccc18" fill-opacity="0.93"/>
<text class="an" x="50" y="213.4">head</text>
<rect x="59.7" y="211" width="37.9" height="5.1" fill="#16d2d2" fill-opacity="0.93"/>
<text class="an" x="60.7" y="215">head 59.9329 km/s</text>
<rect x="130.9" y="208.8" width="37.6" height="5.8" fill="#16d2d2" fill-opacity="0.93"/>
<text class="an" x="131.9" y="213.15">head 55.8855 km/s</text>
<rect x="118.2" y="210.3" width="8.8" height="47.6" fill="none" stroke="#12b9bd" stroke-width="0.75" stroke-opacity="0.75"/>
<rect x="119" y="204.4" width="12.3" height="5.9" fill="#16d2d2" fill-opacity="0.93"/>
<text class="an" x="120" y="208.8">trail</text>
<rect x="152" y="188.4" width="3" height="0.6" fill="none" stroke="#c214c2" stroke-width="0.75" stroke-opacity="0.75"/>
<rect x="142.3" y="182.1" width="32.8" height="6.3" fill="#d416d4" fill-opacity="0.93"/>
<text class="an" x="143.3" y="186.7">head 56.25 km/s</text>
<rect x="138.2" y="196.1" width="3.3" height="73.9" fill="none" stroke="#c214c2" stroke-width="0.75" stroke-opacity="0.75"/>
<rect x="139.7" y="190.3" width="37" height="5.8" fill="#d416d4" fill-opacity="0.93"/>
<text class="an" x="140.7" y="194.65">head 32.9317 km/s</text>
<rect x="165.6" y="208.8" width="2.9" height="36.7" fill="none" stroke="#c214c2" stroke-width="0.75" stroke-opacity="0.75"/>
<rect x="138.6" y="203" width="38.1" height="5.8" fill="#d416d4" fill-opacity="0.93"/>
<text class="an" x="139.6" y="207.35">head 13.8889 km/s</text>
<rect x="146" y="221.9" width="2.5" height="0.6" fill="none" stroke="#c214c2" stroke-width="0.75" stroke-opacity="0.75"/>
<rect x="138.6" y="216.1" width="38.1" height="5.8" fill="#d416d4" fill-opacity="0.93"/>
<text class="an" x="139.6" y="220.45">head 28.2366 km/s</text>
<rect x="157" y="229.9" width="2.5" height="0.3" fill="none" stroke="#c214c2" stroke-width="0.75" stroke-opacity="0.75"/>
<rect x="138.2" y="224.1" width="38.5" height="5.8" fill="#d416d4" fill-opacity="0.93"/>
<text class="an" x="139.2" y="228.45">head 21.8354 km/s</text>
<rect x="58.2" y="232" width="2.3" height="1.1" fill="none" stroke="#c214c2" stroke-width="0.75" stroke-opacity="0.75"/>
<rect x="58.2" y="225.8" width="37.9" height="6.2" fill="#d416d4" fill-opacity="0.93"/>
<text class="an" x="59.2" y="230.35">head 19.8718 km/s</text>
<rect x="47.2" y="255.7" width="3.3" height="14.9" fill="none" stroke="#c214c2" stroke-width="0.75" stroke-opacity="0.75"/>
<rect x="47.2" y="249.9" width="37.9" height="5.8" fill="#d416d4" fill-opacity="0.93"/>
<text class="an" x="48.2" y="254.25">head 10.0108 km/s</text>
<rect x="137" y="247" width="25.6" height="22.5" fill="none" stroke="#c214c2" stroke-width="0.75" stroke-opacity="0.75"/>
<rect x="137.6" y="241.1" width="24.8" height="5.9" fill="#d416d4" fill-opacity="0.93"/>
<text class="an" x="138.6" y="245.5">trail</text>
<rect x="59.3" y="240" width="3.9" height="7" fill="none" stroke="#12b9bd" stroke-width="0.75" stroke-opacity="0.75"/>
<rect x="118.2" y="240" width="8.8" height="17.9" fill="none" stroke="#12b9bd" stroke-width="0.75" stroke-opacity="0.75"/>
<rect x="40.7" y="240" width="4.4" height="1.9" fill="none" stroke="#12b9bd" stroke-width="0.75" stroke-opacity="0.75"/>
<rect x="138.2" y="247" width="3.3" height="23" fill="none" stroke="#c214c2" stroke-width="0.75" stroke-opacity="0.75"/>
<rect x="165.6" y="240" width="2.9" height="5.5" fill="none" stroke="#c214c2" stroke-width="0.75" stroke-opacity="0.75"/>
</g>
<rect x="27.3" y="179.2" width="149.5" height="133.4" fill="none" stroke="#0a1018" stroke-width="0.45" stroke-opacity="0.85"/>
<text class="tt" text-anchor="middle" x="102.05" y="177.3">ROI example 4</text>
<text class="tk" text-anchor="middle" x="27.3" y="322.7">0</text>
<text class="tk" text-anchor="middle" x="64.67" y="322.7">1000</text>
<text class="tk" text-anchor="middle" x="102.05" y="322.7">2000</text>
<text class="tk" text-anchor="middle" x="139.43" y="322.7">3000</text>
<text class="tk" text-anchor="middle" x="176.8" y="322.7">4000</text>
<text class="tk" text-anchor="end" x="25" y="192.15">115</text>
<text class="tk" text-anchor="end" x="25" y="212.75">110</text>
<text class="tk" text-anchor="end" x="25" y="233.35">105</text>
<text class="tk" text-anchor="end" x="25" y="253.95">100</text>
<text class="tk" text-anchor="end" x="25" y="274.55">95</text>
<text class="tk" text-anchor="end" x="25" y="295.15">90</text>
<text class="lb" text-anchor="middle" x="102.05" y="332.2">Time, <tspan font-family="'Liberation Serif','DejaVu Serif',serif" font-style="italic" font-size="6.4px">μ</tspan><tspan dx="0.7">s</tspan></text>
<text class="lb" text-anchor="middle" transform="translate(10,245.9) rotate(-90)">Altitude, Km</text>
</g>
<g id="panel5">
<rect x="209.3" y="179.2" width="149.3" height="133.4" fill="#05283e"/>
<g clip-path="url(#cp4)">
<rect x="209.3" y="179.2" width="149.3" height="133.4" filter="url(#streak)" opacity="0.32"/>
<rect x="209.3" y="204" width="149.30" height="11" fill="#263684" opacity="0.22" filter="url(#b1)"/>
<rect x="209.3" y="205" width="149.30" height="9" fill="#5048b8" opacity="0.24" filter="url(#speck2)"/>
<rect x="209.3" y="238" width="149.30" height="12" fill="#263684" opacity="0.3" filter="url(#b1)"/>
<rect x="209.3" y="239.5" width="149.30" height="9" fill="#5a50c8" opacity="0.42" filter="url(#speck2)"/>
<rect x="209.3" y="252" width="149.3" height="36" fill="url(#g5)"/>
<rect x="209.3" y="262" width="149.30" height="16" fill="#f0a0c0" opacity="0.4" filter="url(#speck)"/>
<rect x="209.3" y="258" width="149.30" height="30" fill="#1c2470" opacity="0.5" filter="url(#speck2)"/>
<rect x="209.3" y="278.7" width="149.30" height="1.6" fill="#ffd868" opacity="0.5" filter="url(#b0)"/>
<line x1="279.7" y1="198" x2="283" y2="226" stroke="#d070a8" stroke-width="1" stroke-opacity="0.85" filter="url(#b0)"/>
<line x1="264" y1="230" x2="265" y2="247" stroke="#8a58c0" stroke-width="0.8" stroke-opacity="0.7" filter="url(#b0)"/>
<rect x="226.1" y="197.6" width="4.9" height="17.8" fill="none" stroke="#c214c2" stroke-width="0.75" stroke-opacity="0.75"/>
<rect x="226.1" y="191.3" width="37.9" height="6.3" fill="#d416d4" fill-opacity="0.93"/>
<text class="an" x="227.1" y="195.9">head 51.3287 km/s</text>
<rect x="284" y="185" width="7.8" height="43" fill="none" stroke="#b9b91c" stroke-width="0.75" stroke-opacity="0.75"/>
<rect x="277.5" y="197.9" width="13.8" height="36.7" fill="none" stroke="#12b9bd" stroke-width="0.75" stroke-opacity="0.75"/>
<rect x="277.5" y="191.3" width="13.8" height="6.6" fill="#16d2d2" fill-opacity="0.93"/>
<text class="an" x="278.5" y="196.05">trail</text>
<rect x="261.9" y="221.9" width="5.1" height="27" fill="none" stroke="#12b9bd" stroke-width="0.75" stroke-opacity="0.75"/>
<rect x="261.9" y="215.7" width="36.3" height="6.2" fill="#16d2d2" fill-opacity="0.93"/>
<text class="an" x="262.9" y="220.25">head 36.7475 km/s</text>
<rect x="259.2" y="221.9" width="9.9" height="28.7" fill="none" stroke="#c214c2" stroke-width="0.75" stroke-opacity="0.75"/>
<rect x="259.2" y="215.7" width="10.7" height="6.2" fill="#d416d4" fill-opacity="0.93"/>
<text class="an" x="260.2" y="220.25">head</text>
<rect x="211.5" y="232.4" width="146.9" height="59.3" fill="none" stroke="#b9b91c" stroke-width="0.65" stroke-opacity="0.95"/>
<rect x="211.6" y="226.1" width="146.9" height="6.3" fill="#cccc18" fill-opacity="0.93"/>
<text class="an" x="212.6" y="230.7">eej</text>
<rect x="284" y="228" width="11.3" height="6.3" fill="#cccc18" fill-opacity="0.75"/>
<text class="an" x="285" y="232.6">head</text>
<rect x="277.5" y="232.4" width="13.8" height="2.2" fill="none" stroke="#12b9bd" stroke-width="0.75" stroke-opacity="0.75"/>
<rect x="261.9" y="232.4" width="5.1" height="16.5" fill="none" stroke="#12b9bd" stroke-width="0.75" stroke-opacity="0.75"/>
<rect x="259.2" y="232.4" width="9.9" height="18.2" fill="none" stroke="#c214c2" stroke-width="0.75" stroke-opacity="0.75"/>
<rect x="338.3" y="234.6" width="5.5" height="21.1" fill="none" stroke="#c214c2" stroke-width="0.75" stroke-opacity="0.75"/>
<rect x="320.1" y="229" width="38.4" height="5.6" fill="#d416d4" fill-opacity="0.93"/>
<text class="an" x="321.1" y="233.25">head 32.2581 km/s</text>
</g>
<rect x="209.3" y="179.2" width="149.3" height="133.4" fill="none" stroke="#0a1018" stroke-width="0.45" stroke-opacity="0.85"/>
<text class="tt" text-anchor="middle" x="283.95" y="177.3">ROI example 5</text>
<text class="tk" text-anchor="middle" x="209.3" y="322.7">0</text>
<text class="tk" text-anchor="middle" x="246.62" y="322.7">1000</text>
<text class="tk" text-anchor="middle" x="283.95" y="322.7">2000</text>
<text class="tk" text-anchor="middle" x="321.28" y="322.7">3000</text>
<text class="tk" text-anchor="middle" x="358.6" y="322.7">4000</text>
<text class="tk" text-anchor="end" x="207" y="192.15">115</text>
<text class="tk" text-anchor="end" x="207" y="212.75">110</text>
<text class="tk" text-anchor="end" x="207" y="233.35">105</text>
<text class="tk" text-anchor="end" x="207" y="253.95">100</text>
<text class="tk" text-anchor="end" x="207" y="274.55">95</text>
<text class="tk" text-anchor="end" x="207" y="295.15">90</text>
<text class="lb" text-anchor="middle" x="283.95" y="332.2">Time, <tspan font-family="'Liberation Serif','DejaVu Serif',serif" font-style="italic" font-size="6.4px">μ</tspan><tspan dx="0.7">s</tspan></text>
<text class="lb" text-anchor="middle" transform="translate(192,245.9) rotate(-90)">Altitude, Km</text>
</g>
<g id="panel6">
<rect x="390.7" y="179.2" width="149.1" height="133.4" fill="#05283e"/>
<g clip-path="url(#cp5)">
<rect x="390.7" y="179.2" width="149.1" height="133.4" filter="url(#streak)" opacity="0.32"/>
<rect x="390.7" y="193.5" width="149.10" height="7" fill="#263684" opacity="0.25" filter="url(#b1)"/>
<rect x="390.7" y="204.5" width="149.10" height="5" fill="#2c3c98" opacity="0.38" filter="url(#b1)"/>
<rect x="390.7" y="205" width="149.10" height="4" fill="#5048b8" opacity="0.25" filter="url(#speck2)"/>
<rect x="390.7" y="247" width="149.10" height="6" fill="#2c3a8c" opacity="0.2" filter="url(#b1)"/>
<rect x="390.7" y="245" width="149.1" height="42" fill="url(#g6)"/>
<rect x="390.7" y="256" width="149.10" height="6" fill="#6a50d0" opacity="0.35" filter="url(#speck2)"/>
<rect x="390.7" y="272" width="149.10" height="9" fill="#ffb868" opacity="0.4" filter="url(#speck)"/>
<rect x="390.7" y="262" width="149.10" height="23" fill="#3a2a90" opacity="0.45" filter="url(#speck2)"/>
<g filter="url(#grain)"><polygon points="484.6,223 488.5,223 496,232 494.5,239 488.5,244 485,242" fill="#7a4cc0" opacity="0.8" filter="url(#b1)"/><polygon points="485.2,224.5 488.5,225 494.5,232.5 493,237 488.5,241 485.6,239.5" fill="url(#m6a)" filter="url(#b0)"/></g>
<ellipse cx="487.6" cy="232" rx="1.9" ry="6" fill="#ffa24c" opacity="0.9" filter="url(#b0)"/>
<g filter="url(#grain)"><line x1="524" y1="206" x2="529.5" y2="252" stroke="#8a50c0" stroke-width="4.6" stroke-opacity="0.7" filter="url(#b1)"/><line x1="524.6" y1="222" x2="527" y2="240" stroke="#f4906a" stroke-width="3" stroke-opacity="1" filter="url(#b0)"/><line x1="527.2" y1="240" x2="529.2" y2="251" stroke="#c868b0" stroke-width="2.4" stroke-opacity="0.85" filter="url(#b0)"/></g>
<ellipse cx="525.5" cy="217.5" rx="3.6" ry="0.9" fill="#ffe060" opacity="0.95" filter="url(#b0)"/>
<ellipse cx="524.6" cy="214" rx="0.9" ry="4" fill="#d070b0" opacity="0.8" filter="url(#b0)"/>
<line x1="440.5" y1="226" x2="447.5" y2="257" stroke="#9058c0" stroke-width="1" stroke-opacity="0.55" filter="url(#b0)"/>
<ellipse cx="445.5" cy="250" rx="2.4" ry="4.5" fill="#c068b8" opacity="0.55" filter="url(#b1)"/>
<rect x="407.4" y="186.7" width="127.5" height="34.8" fill="none" stroke="#b9b91c" stroke-width="0.6" stroke-opacity="0.95"/>
<rect x="407.4" y="180.7" width="127.5" height="6" fill="#cccc18" fill-opacity="0.93"/>
<text class="an" x="408.4" y="185.15">eej</text>
<rect x="419.4" y="184.7" width="5.2" height="29.3" fill="none" stroke="#c214c2" stroke-width="0.75" stroke-opacity="0.75"/>
<rect x="419.4" y="179.2" width="37.6" height="5.5" fill="#d416d4" fill-opacity="0.93"/>
<text class="an" x="420.4" y="183.4">head 15.3566 km/s</text>
<rect x="415" y="190.3" width="3.3" height="29.7" fill="none" stroke="#12b9bd" stroke-width="0.75" stroke-opacity="0.75"/>
<rect x="415" y="185" width="37.6" height="5.3" fill="#16d2d2" fill-opacity="0.93"/>
<text class="an" x="416" y="189.1">head 22.0033 km/s</text>
<rect x="452.9" y="200" width="2.6" height="20.5" fill="none" stroke="#c214c2" stroke-width="0.75" stroke-opacity="0.75"/>
<rect x="452.9" y="194.2" width="37.5" height="5.8" fill="#d416d4" fill-opacity="0.93"/>
<text class="an" x="453.9" y="198.55">head 24.1844 km/s</text>
<rect x="488.5" y="193.8" width="2.7" height="10.6" fill="none" stroke="#c214c2" stroke-width="0.75" stroke-opacity="0.75"/>
<rect x="488.5" y="188.4" width="34.7" height="5.4" fill="#d416d4" fill-opacity="0.93"/>
<text class="an" x="489.5" y="192.55">head 33.088 km/s</text>
<rect x="404.8" y="208.1" width="4.1" height="29.4" fill="none" stroke="#12b9bd" stroke-width="0.75" stroke-opacity="0.75"/>
<rect x="405.2" y="202.5" width="37.2" height="5.6" fill="#16d2d2" fill-opacity="0.93"/>
<text class="an" x="406.2" y="206.75">head 33.6795 km/s</text>
<rect x="436.6" y="209.8" width="15.3" height="51.7" fill="none" stroke="#12b9bd" stroke-width="0.75" stroke-opacity="0.75"/>
<rect x="437.3" y="203.7" width="13.8" height="6.1" fill="#16d2d2" fill-opacity="0.93"/>
<text class="an" x="438.3" y="208.2">trail</text>
<rect x="469.4" y="208.1" width="3.1" height="26.9" fill="none" stroke="#12b9bd" stroke-width="0.75" stroke-opacity="0.75"/>
<rect x="469.6" y="202.5" width="35.4" height="5.6" fill="#16d2d2" fill-opacity="0.93"/>
<text class="an" x="470.6" y="206.75">head 40.032 km/s</text>
<rect x="482.4" y="218.3" width="20.9" height="26.8" fill="none" stroke="#12b9bd" stroke-width="0.75" stroke-opacity="0.75"/>
<rect x="482.4" y="211.7" width="20.4" height="6.6" fill="#16d2d2" fill-opacity="0.93"/>
<text class="an" x="483.4" y="216.45">trail</text>
<rect x="520.8" y="204.4" width="11.4" height="49.9" fill="none" stroke="#12b9bd" stroke-width="0.75" stroke-opacity="0.75"/>
<rect x="521.5" y="198.6" width="9" height="5.8" fill="#16d2d2" fill-opacity="0.93"/>
<text class="an" x="522.5" y="202.95">trail</text>
<rect x="515.2" y="178" width="4.4" height="41.7" fill="none" stroke="#12b9bd" stroke-width="0.75" stroke-opacity="0.75"/>
<rect x="502.5" y="219.7" width="37.5" height="6.4" fill="#16d2d2" fill-opacity="0.93"/>
<text class="an" x="503.5" y="224.35">head 28.1588 km/s</text>
<rect x="415" y="226.6" width="2.9" height="5.8" fill="none" stroke="#c214c2" stroke-width="0.75" stroke-opacity="0.75"/>
<rect x="415" y="220.7" width="37.6" height="5.9" fill="#d416d4" fill-opacity="0.93"/>
<text class="an" x="416" y="225.1">head 24.8038 km/s</text>
<rect x="415.2" y="190.3" width="2.7" height="30.4" fill="none" stroke="#c214c2" stroke-width="0.75" stroke-opacity="0.75"/>
<rect x="413.2" y="242.6" width="2.7" height="5.8" fill="none" stroke="#c214c2" stroke-width="0.75" stroke-opacity="0.75"/>
<rect x="413.2" y="236.8" width="34.7" height="5.8" fill="#d416d4" fill-opacity="0.93"/>
<text class="an" x="414.2" y="241.15">head 6.8807 km/s</text>
</g>
<rect x="390.7" y="179.2" width="149.1" height="133.4" fill="none" stroke="#0a1018" stroke-width="0.45" stroke-opacity="0.85"/>
<text class="tt" text-anchor="middle" x="465.25" y="177.3">ROI example 6</text>
<text class="tk" text-anchor="middle" x="390.7" y="322.7">0</text>
<text class="tk" text-anchor="middle" x="427.97" y="322.7">1000</text>
<text class="tk" text-anchor="middle" x="465.25" y="322.7">2000</text>
<text class="tk" text-anchor="middle" x="502.52" y="322.7">3000</text>
<text class="tk" text-anchor="middle" x="539.8" y="322.7">4000</text>
<text class="tk" text-anchor="end" x="388.4" y="192.15">115</text>
<text class="tk" text-anchor="end" x="388.4" y="212.75">110</text>
<text class="tk" text-anchor="end" x="388.4" y="233.35">105</text>
<text class="tk" text-anchor="end" x="388.4" y="253.95">100</text>
<text class="tk" text-anchor="end" x="388.4" y="274.55">95</text>
<text class="tk" text-anchor="end" x="388.4" y="295.15">90</text>
<text class="lb" text-anchor="middle" x="465.25" y="332.2">Time, <tspan font-family="'Liberation Serif','DejaVu Serif',serif" font-style="italic" font-size="6.4px">μ</tspan><tspan dx="0.7">s</tspan></text>
<text class="lb" text-anchor="middle" transform="translate(373.4,245.9) rotate(-90)">Altitude, Km</text>
</g>
</svg></body></html>
